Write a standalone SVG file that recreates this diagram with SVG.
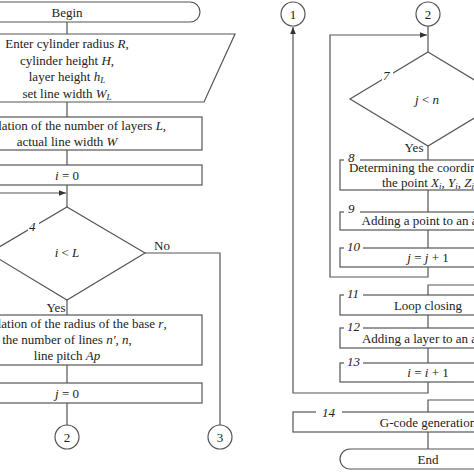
<svg xmlns="http://www.w3.org/2000/svg" width="474" height="474" viewBox="0 0 474 474">
<defs>
<style>
.s{fill:#fff;stroke:#555;stroke-width:1.2}
.c{fill:none;stroke:#555;stroke-width:1.2}
.t{font-family:"Liberation Serif","Times New Roman",serif;font-size:13px;fill:#222;text-anchor:middle}
.l{font-family:"Liberation Serif","Times New Roman",serif;font-size:13px;fill:#222;font-style:italic}
.i{font-style:italic}
.sub{font-size:9px;font-style:italic}
.w{fill:#fff;stroke:none}
</style>
<marker id="ah" viewBox="0 0 10 10" refX="10" refY="5" markerWidth="7" markerHeight="7" orient="auto" markerUnits="userSpaceOnUse">
<path d="M0,1 L10,5 L0,9 Z" fill="#333"/>
</marker>
</defs>
<rect width="474" height="474" fill="#fff"/>

<g id="connectors">
<path class="c" d="M67,22V34M67,102V117M67,150V165M67,185V207"/>
<path class="c" d="M0,193H66" marker-end="url(#ah)"/>
<path class="c" d="M145,253H220V425"/>
<path class="c" d="M67,300V315M67,365V383M67,403V425"/>
<path class="c" d="M428,382V393H293V27" marker-end="url(#ah)"/>
<path class="c" d="M428,26V52"/>
<path class="c" d="M428,267V277H330V35H427" marker-end="url(#ah)"/>
<path class="c" d="M428,146V160M428,190V212M428,230V248"/>
<path class="c" d="M506,99H540V285H428V295"/>
<path class="c" d="M428,315V328M428,348V363"/>
<path class="c" d="M480,400H428V412M428,432V449"/>
</g>

<g id="n1">
<rect class="s" x="-66" y="2" width="266" height="20" rx="10"/>
<text class="t" x="67" y="16.5">Begin</text>
</g>

<g id="n2">
<polygon class="s" points="-70,34 235,34 204,102 -101,102"/>
<text class="t" x="67" y="48">Enter cylinder radius <tspan class="i">R</tspan>,</text>
<text class="t" x="67" y="65">cylinder height <tspan class="i">H</tspan>,</text>
<text class="t" x="67" y="81">layer height <tspan class="i">h</tspan><tspan class="sub" dy="2">L</tspan></text>
<text class="t" x="67" y="98">set line width <tspan class="i">W</tspan><tspan class="sub" dy="2">L</tspan></text>
</g>

<g id="n3">
<rect class="s" x="-68" y="117" width="270" height="33"/>
<text class="t" x="67" y="130">Calculation of the number of layers <tspan class="i">L</tspan>,</text>
<text class="t" x="67" y="146">actual line width <tspan class="i">W</tspan></text>
</g>

<g id="n4a">
<rect class="s" x="-68" y="165" width="270" height="20"/>
<text class="t" x="67" y="179.5"><tspan class="i">i</tspan> = 0</text>
</g>

<g id="n4">
<polygon class="s" points="67,207 145,253 67,300 -11,253"/>
<rect class="w" x="28" y="220" width="11" height="13"/>
<text class="l" x="29" y="231">4</text>
<text class="t" x="67" y="257"><tspan class="i">i</tspan> &lt; <tspan class="i">L</tspan></text>
<text class="t" x="162" y="250">No</text>
<text class="t" x="56" y="312">Yes</text>
</g>

<g id="n5">
<rect class="s" x="-68" y="315" width="270" height="50"/>
<text class="t" x="67" y="328">Calculation of the radius of the base <tspan class="i">r</tspan>,</text>
<text class="t" x="67" y="344">the number of lines <tspan class="i">n′</tspan>, <tspan class="i">n</tspan>,</text>
<text class="t" x="67" y="360">line pitch <tspan class="i">Ap</tspan></text>
</g>

<g id="n6">
<rect class="s" x="-68" y="383" width="270" height="20"/>
<text class="t" x="67" y="397.5"><tspan class="i">j</tspan> = 0</text>
</g>

<g id="c2a">
<circle class="s" cx="67" cy="437" r="12"/>
<text class="t" x="67" y="441.5">2</text>
</g>
<g id="c3">
<circle class="s" cx="220" cy="437" r="12"/>
<text class="t" x="220" y="441.5">3</text>
</g>
<g id="c1">
<circle class="s" cx="293" cy="14" r="12"/>
<text class="t" x="293" y="18.5">1</text>
</g>
<g id="c2b">
<circle class="s" cx="428" cy="14" r="12"/>
<text class="t" x="428" y="18.5">2</text>
</g>

<g id="n7">
<polygon class="s" points="428,52 506,99 428,146 350,99"/>
<rect class="w" x="382" y="69" width="11" height="13"/>
<text class="l" x="383" y="80">7</text>
<text class="t" x="427" y="104"><tspan class="i">j</tspan> &lt; <tspan class="i">n</tspan></text>
<text class="t" x="414" y="152">Yes</text>
</g>

<g id="n8">
<rect class="s" x="340" y="160" width="176" height="30"/>
<rect class="w" x="344" y="158" width="16" height="4"/>
<text class="t" x="430" y="172">Determining the coordinates of</text>
<text class="t" x="428" y="187">the point <tspan class="i">X</tspan><tspan class="sub" dy="2">i</tspan><tspan dy="-2">, </tspan><tspan class="i">Y</tspan><tspan class="sub" dy="2">i</tspan><tspan dy="-2">, </tspan><tspan class="i">Z</tspan><tspan class="sub" dy="2">i</tspan></text>
<text class="l" x="348" y="162">8</text>
</g>

<g id="n9">
<rect class="s" x="340" y="212" width="176" height="18"/>
<rect class="w" x="344" y="210" width="16" height="4"/>
<text class="l" x="348" y="213">9</text>
<text class="t" x="430" y="225">Adding a point to an array</text>
</g>

<g id="n10">
<rect class="s" x="340" y="248" width="176" height="19"/>
<rect class="w" x="344" y="246" width="19" height="4"/>
<text class="l" x="347" y="251">10</text>
<text class="t" x="428" y="262"><tspan class="i">j</tspan> = <tspan class="i">j</tspan> + 1</text>
</g>

<g id="n11">
<rect class="s" x="340" y="295" width="176" height="20"/>
<rect class="w" x="344" y="293" width="19" height="4"/>
<text class="l" x="347" y="298">11</text>
<text class="t" x="428" y="310">Loop closing</text>
</g>

<g id="n12">
<rect class="s" x="340" y="328" width="176" height="20"/>
<rect class="w" x="344" y="326" width="19" height="4"/>
<text class="l" x="347" y="331">12</text>
<text class="t" x="430" y="343">Adding a layer to an array</text>
</g>

<g id="n13">
<rect class="s" x="340" y="363" width="176" height="19"/>
<rect class="w" x="344" y="361" width="19" height="4"/>
<text class="l" x="347" y="366">13</text>
<text class="t" x="428" y="377"><tspan class="i">i</tspan> = <tspan class="i">i</tspan> + 1</text>
</g>

<g id="n14">
<rect class="s" x="293" y="412" width="270" height="20"/>
<rect class="w" x="316" y="410" width="26" height="4"/>
<text class="l" x="322" y="417">14</text>
<text class="t" x="428" y="427">G-code generation</text>
</g>

<g id="n15">
<rect class="s" x="340" y="449" width="176" height="20" rx="10"/>
<text class="t" x="428" y="463.5">End</text>
</g>
</svg>
